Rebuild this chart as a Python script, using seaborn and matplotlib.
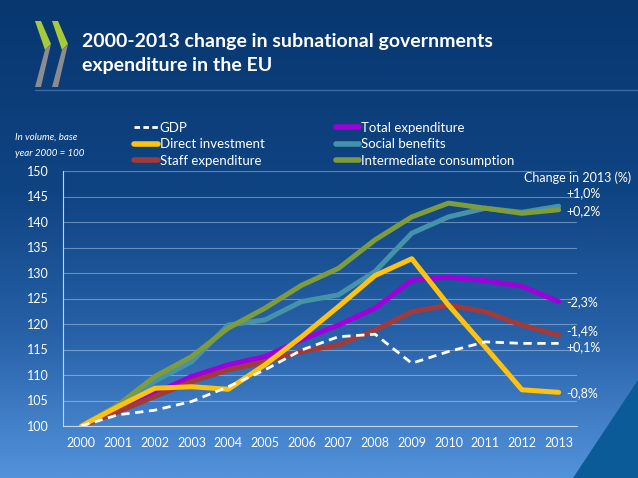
import numpy as np
import pandas as pd
import matplotlib
matplotlib.use("Agg")
import matplotlib.pyplot as plt
from matplotlib.colors import LinearSegmentedColormap
from matplotlib.patches import Polygon
from matplotlib.lines import Line2D
import seaborn as sns

# données (base 2000 = 100)
years = list(range(2000, 2014))
gdp = [100, 102.2, 103.1, 104.8, 107.7, 111.0, 114.9, 117.5, 118.0, 112.3, 114.6, 116.5, 116.2, 116.2]
direct_investment = [100, 103.8, 107.4, 107.7, 107.2, 112.0, 117.5, 123.4, 129.5, 132.8, 123.7, 115.5, 107.1, 106.6]
staff_expenditure = [100, 102.8, 105.8, 108.7, 111.0, 112.6, 114.6, 115.9, 118.8, 122.4, 123.7, 122.4, 119.8, 117.8]
total_expenditure = [100, 103.5, 106.4, 109.7, 112.0, 113.6, 116.9, 119.8, 123.1, 128.6, 129.2, 128.5, 127.4, 124.4]
social_benefits = [100, 103.5, 108.8, 112.6, 119.8, 120.8, 124.4, 125.7, 130.3, 137.8, 141.0, 142.7, 141.9, 143.1]
intermediate_consumption = [100, 104.1, 109.7, 113.6, 119.2, 123.1, 127.6, 130.9, 136.5, 141.0, 143.7, 142.7, 141.7, 142.4]

series_names = ["GDP", "Direct investment", "Staff expenditure",
                "Total expenditure", "Social benefits", "Intermediate consumption"]
series_values = [gdp, direct_investment, staff_expenditure,
                 total_expenditure, social_benefits, intermediate_consumption]
colors = {"GDP": "#ffffff", "Direct investment": "#ffc20e", "Staff expenditure": "#a33a3a",
          "Total expenditure": "#9e00dc", "Social benefits": "#4593a8",
          "Intermediate consumption": "#7f9c3c"}
zorders = {"Social benefits": 3, "Intermediate consumption": 4, "Total expenditure": 5,
           "Staff expenditure": 6, "Direct investment": 7, "GDP": 8}

change_labels = ["+1,0%", "+0,2%", "-2,3%", "-1,4%", "+0,1%", "-0,8%"]
change_pix_y = [193, 211, 302, 331, 347, 393]

df = pd.DataFrame({
    "Year": years * len(series_names),
    "Value": sum(series_values, []),
    "Series": np.repeat(series_names, len(years)),
})

sns.set_style("white")
plt.rcParams["font.family"] = ["Lato", "DejaVu Sans"]

W, H = 638, 478
fig = plt.figure(figsize=(W / 100, H / 100), dpi=100)

# fond en dégradé
bg = fig.add_axes([0, 0, 1, 1], zorder=-10)
cmap = LinearSegmentedColormap.from_list(
    "bg", [(0, "#08376f"), (0.4, "#0f4483"), (0.7, "#2761a8"), (1.0, "#5393dc")])
bg.imshow(np.linspace(0, 1, 256).reshape(-1, 1), aspect="auto", cmap=cmap,
          extent=[0, 1, 0, 1], origin="upper")
bg.add_patch(Polygon([(1, 1 - 380 / H), (1, 0), (573 / W, 0)], closed=True,
                     facecolor="#0a5b98", edgecolor="none", transform=bg.transAxes))
bg.set_xlim(0, 1)
bg.set_ylim(0, 1)
bg.axis("off")

# logo OCDE
def chevron(x0):
    top, mid, bot = 21, 47, 87
    pts_green = [(x0, top), (x0 + 6, top), (x0 + 16, mid - 3), (x0 + 10, mid + 3)]
    pts_grey = [(x0 + 10, mid + 3), (x0 + 16, mid - 3), (x0 + 6, bot), (x0, bot)]
    for pts, col in [(pts_green, "#a7ca3a"), (pts_grey, "#8b8c90")]:
        bg.add_patch(Polygon([(px / W, 1 - py / H) for px, py in pts], closed=True,
                             facecolor=col, edgecolor="none"))

chevron(35)
chevron(52)
bg.plot([35 / W, 1], [1 - 90 / H, 1 - 90 / H], color="#3c6aa3", lw=1)

fig.text(82 / W, 1 - 42 / H, "2000-2013 change in subnational governments",
         color="white", fontsize=14, fontweight="bold", va="center", ha="left")
fig.text(82 / W, 1 - 65 / H, "expenditure in the EU",
         color="white", fontsize=14, fontweight="bold", va="center", ha="left")

fig.text(15 / W, 1 - 137 / H, "In volume, base", color="white", fontsize=7,
         style="italic", va="center", ha="left")
fig.text(15 / W, 1 - 154 / H, "year 2000 = 100", color="white", fontsize=7,
         style="italic", va="center", ha="left")

ax = fig.add_axes([63 / W, 1 - 426 / H, (577 - 63) / W, (426 - 171) / H])
ax.set_facecolor("none")

handles = {}
for name in series_names:
    sub = df[df["Series"] == name]
    is_gdp = name == "GDP"
    sns.lineplot(data=sub, x="Year", y="Value", ax=ax, color=colors[name],
                 linewidth=2 if is_gdp else 3.6, linestyle=(0, (3, 2)) if is_gdp else "-",
                 zorder=zorders[name], solid_capstyle="round")
    handles[name] = Line2D([], [], color=colors[name], linewidth=2 if is_gdp else 4,
                           linestyle=(0, (2, 1.2)) if is_gdp else "-",
                           solid_capstyle="round")

ax.set_xlim(1999.5, 2013.5)
ax.set_ylim(100, 150)
ax.set_yticks(range(100, 151, 5))
ax.set_xticks(np.arange(1999.5, 2014, 1))
ax.set_xticklabels([])
ax.set_xticks(years, minor=True)
ax.set_xticklabels([str(y) for y in years], minor=True)
ax.tick_params(axis="x", which="major", direction="in", length=4, color="#c8d6ea", width=0.8)
ax.tick_params(axis="x", which="minor", length=0, colors="white", labelsize=9, pad=8)
ax.tick_params(axis="y", direction="out", length=4, color="#c8d6ea", width=0.8,
               colors="white", labelsize=9, pad=6)
ax.set_xlabel("")
ax.set_ylabel("")
ax.grid(axis="y", color="#ffffff", alpha=0.35, linewidth=0.8)
ax.set_axisbelow(True)
for side in ["top", "right"]:
    ax.spines[side].set_visible(False)
for side in ["left", "bottom"]:
    ax.spines[side].set_color("#c8d6ea")
    ax.spines[side].set_linewidth(0.8)

leg = fig.legend([handles[n] for n in series_names], series_names, ncol=2,
                 loc="upper left", bbox_to_anchor=(122 / W, 1 - 110 / H),
                 frameon=False, fontsize=9.5, handlelength=1.8, handletextpad=0.15,
                 columnspacing=5.4, labelspacing=0.35)
for t in leg.get_texts():
    t.set_color("white")

fig.text(631 / W, 1 - 178 / H, "Change in 2013 (%)", color="white", fontsize=9,
         ha="right", va="center")
for lab, py in zip(change_labels, change_pix_y):
    fig.text(566 / W, 1 - py / H, lab, color="white", fontsize=9, ha="left", va="center")

fig.savefig("out.png", dpi=100)
